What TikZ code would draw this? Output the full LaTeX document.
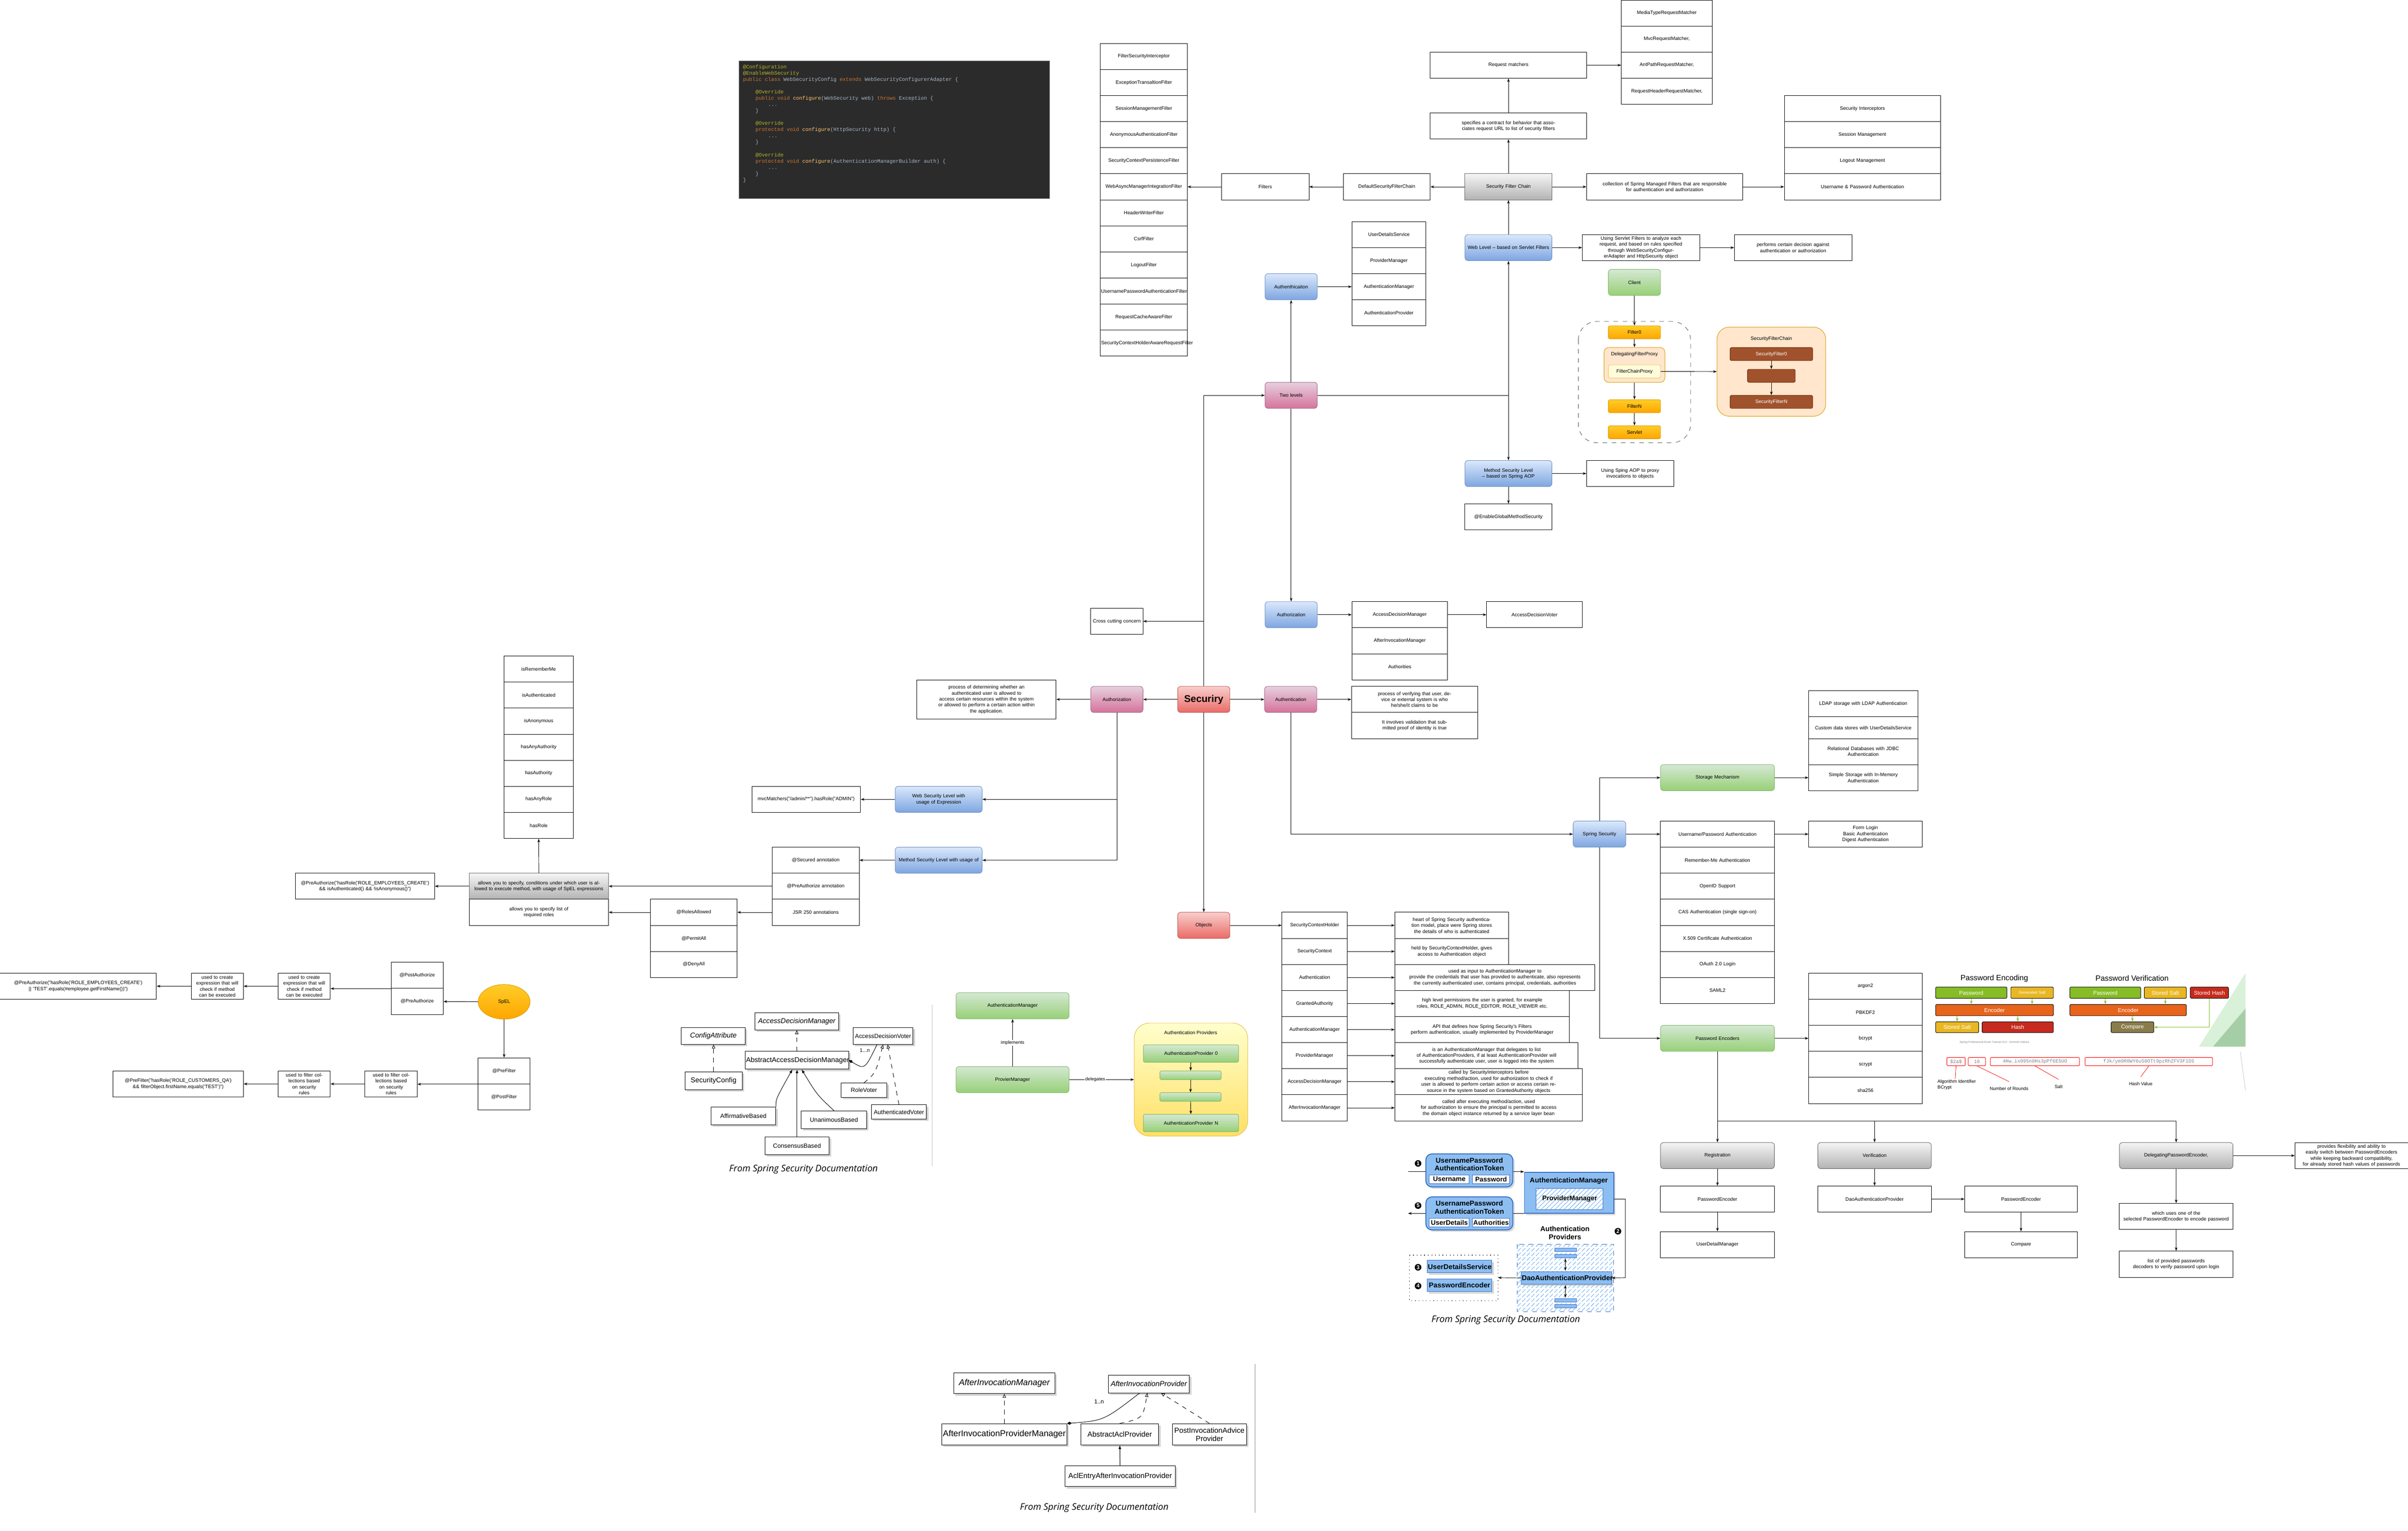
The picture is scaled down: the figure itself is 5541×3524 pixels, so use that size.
\documentclass[tikz,border=0pt]{standalone}
\usepackage{fontspec}
\setmainfont{Liberation Sans}
\newfontfamily\capfont{Open Sans}
\newfontfamily\codefont{Liberation Mono}
\usetikzlibrary{arrows.meta,shapes.geometric,patterns,shadows}
\definecolor{bT}{HTML}{DAE8FC}\definecolor{bB}{HTML}{7EA6E0}\definecolor{bD}{HTML}{6C8EBF}
\definecolor{pT}{HTML}{E6D0DE}\definecolor{pB}{HTML}{D5739D}\definecolor{pD}{HTML}{996185}
\definecolor{rT}{HTML}{F8CECC}\definecolor{rB}{HTML}{EA6B66}\definecolor{rD}{HTML}{B85450}
\definecolor{gT}{HTML}{D5E8D4}\definecolor{gB}{HTML}{97D077}\definecolor{gD}{HTML}{82B366}
\definecolor{yT}{HTML}{F5F5F5}\definecolor{yB}{HTML}{B3B3B3}\definecolor{yD}{HTML}{666666}
\definecolor{oT}{HTML}{FFCD28}\definecolor{oB}{HTML}{FFA500}\definecolor{oD}{HTML}{D79B00}
\definecolor{peach}{HTML}{FFE6CC}\definecolor{brn}{HTML}{A0522D}\definecolor{brnD}{HTML}{6D1F00}
\definecolor{codebg}{HTML}{2B2B2B}\definecolor{cAnn}{HTML}{BBB529}\definecolor{cKw}{HTML}{CC7832}
\definecolor{cTx}{HTML}{A9B7C6}\definecolor{cMe}{HTML}{FFC66D}
\definecolor{tokB}{HTML}{8CBEF2}\definecolor{tokD}{HTML}{3A6FC4}
\definecolor{pwG}{HTML}{86BC25}\definecolor{pwY}{HTML}{E8B723}\definecolor{pwO}{HTML}{E8641B}
\definecolor{pwR}{HTML}{C52B1E}\definecolor{pwC}{HTML}{8A7D4B}
\newcommand\fs{\fontsize{3.2}{3.9}\selectfont}
\newcommand\mybox[7]{%
 \pgfmathsetmacro\mbx{(#2+#4)/2}\pgfmathsetmacro\mby{(#3+#5)/2}%
 \pgfmathsetmacro\mbw{(#4-#2)*0.28453}\pgfmathsetmacro\mbh{(#5-#3)*0.28453}%
 \pgfmathsetmacro\mbt{max((#4-#2)*0.28453-1,1)}%
 \node[#6, minimum width=\mbw pt, minimum height=\mbh pt, text width=\mbt pt, align=center] (#1) at (\mbx,\mby) {#7};}
\newcommand\myrows[6]{\foreach [count=\ri] \rt in {#6} {\mybox{#1\ri}{#2}{(#3+(\ri-1)*#5)}{#4}{(#3+\ri*#5)}{plain}{\rt}}}
\tikzset{
 base/.style={draw, line width=0.3pt, inner sep=0.5pt, font=\fs},
 plain/.style={base, fill=white},
 bluebox/.style={base, rounded corners=2pt, top color=bT, bottom color=bB, draw=bD},
 pinkbox/.style={base, rounded corners=2pt, top color=pT, bottom color=pB, draw=pD},
 redbox/.style={base, rounded corners=2pt, top color=rT, bottom color=rB, draw=rD},
 greenbox/.style={base, rounded corners=2pt, top color=gT, bottom color=gB, draw=gD},
 graybox/.style={base, rounded corners=2pt, top color=yT, bottom color=yB, draw=yD},
 orangebox/.style={base, rounded corners=1pt, top color=oT, bottom color=oB, draw=oD},
 peachbox/.style={base, rounded corners=3pt, fill=peach, draw=oD},
 brownbox/.style={base, rounded corners=1pt, fill=brn, draw=brnD, text=white},
 umlbox/.style={base, fill=white, font=\fontsize{4.6}{5.2}\selectfont, drop shadow={shadow xshift=1.2pt, shadow yshift=-1.2pt, fill=gray!70}},
 tok/.style={base, rounded corners=4pt, fill=tokB, draw=tokD, line width=0.6pt, font=\fontsize{4.6}{5.2}\selectfont\bfseries, drop shadow={shadow xshift=1.2pt, shadow yshift=-1.2pt, fill=gray!60}},
 tokin/.style={base, fill=white, draw=tokD, font=\fontsize{4.4}{5}\selectfont\bfseries},
 pw/.style={base, rounded corners=0.6pt, text=white, font=\fontsize{3.6}{4}\selectfont},
 redr/.style={base, draw=red, rounded corners=0.5pt, text=gray, font=\codefont\fontsize{3.2}{3.6}\selectfont},
 num/.style={circle, fill=black, text=white, inner sep=0.4pt, font=\fontsize{3.6}{4}\selectfont\bfseries},
 capt/.style={font=\capfont\itshape\fontsize{6}{7}\selectfont},
 arr/.style={->, line width=0.3pt},
 >={Stealth[length=2.4pt,width=1.7pt]},
}
\begin{document}
\begin{tikzpicture}[x=0.01cm,y=-0.01cm]
\useasboundingbox (0,0) rectangle (5541,3524);
% ---------- code block
\fill[codebg] (1701,140) rectangle (2415,457);
\draw[gray, line width=0.3pt] (1701,140) rectangle (2415,457);
\node[anchor=north west, inner sep=0pt, align=left, text=cTx, font=\codefont\fontsize{3.4}{4.12}\selectfont] (code) at (1709,148) {%
{\color{cAnn}@Configuration}\\
{\color{cAnn}@EnableWebSecurity}\\
{\color{cKw}public class} WebSecurityConfig {\color{cKw}extends} WebSecurityConfigurerAdapter \{\\
~\\
\hspace*{8.2pt}{\color{cAnn}@Override}\\
\hspace*{8.2pt}{\color{cKw}public void} {\color{cMe}configure}(WebSecurity web) {\color{cKw}throws} Exception \{\\
\hspace*{16.4pt}...\\
\hspace*{8.2pt}\}\\
~\\
\hspace*{8.2pt}{\color{cAnn}@Override}\\
\hspace*{8.2pt}{\color{cKw}protected void} {\color{cMe}configure}(HttpSecurity http) \{\\
\hspace*{16.4pt}...\\
\hspace*{8.2pt}\}\\
~\\
\hspace*{8.2pt}{\color{cAnn}@Override}\\
\hspace*{8.2pt}{\color{cKw}protected void} {\color{cMe}configure}(AuthenticationManagerBuilder auth) \{\\
\hspace*{16.4pt}...\\
\hspace*{8.2pt}\}\\
\}};
% ---------- web level
\myrows{f}{2532}{100}{2732}{60}{FilterSecurityInterceptor,ExceptionTransaltionFilter,SessionManagementFilter,AnonymousAuthenticationFilter,SecurityContextPersistenceFilter,WebAsyncManagerIntegrationFilter,HeaderWriterFilter,CsrfFilter,LogoutFilter,UsernamePasswordAuthenticationFilter,RequestCacheAwareFilter,SecurityContextHolderAwareRequestFilter}
\mybox{filters}{2811}{400}{3012}{460}{plain}{Filters}
\mybox{dsfc}{3091}{400}{3291}{460}{plain}{DefaultSecurityFilterChain}
\mybox{sfc}{3371}{400}{3571}{460}{graybox,rounded corners=0pt}{Security Filter Chain}
\mybox{spec}{3291}{260}{3651}{320}{plain}{specifies a contract for behavior that associates request URL to list of security filters}
\mybox{rm}{3291}{120}{3651}{180}{plain}{Request matchers}
\myrows{m}{3731}{0}{3940}{60}{MediaTypeRequestMatcher,{MvcRequestMatcher,},{AntPathRequestMatcher,},{RequestHeaderRequestMatcher,}}
\mybox{coll}{3651}{400}{4010}{460}{plain}{collection of Spring Managed Filters that are responsible\\ for authentication and authorization}
\myrows{s}{4106}{220}{4465}{60}{Security Interceptors,Session Management,Logout Management,Username \& Password Authentication}
\mybox{web}{3371}{540}{3571}{600}{bluebox}{Web Level -- based on Servlet Filters}
\mybox{using}{3641}{540}{3911}{600}{plain}{Using Servlet Filters to analyze each request, and based on rules specified\\ through WebSecurityConfigurerAdapter and HttpSecurity object}
\mybox{perf}{3991}{540}{4261}{600}{plain}{performs certain decision against authentication or authorization}
\draw[arr] (filters) -- (f6);
\draw[arr] (dsfc) -- (filters);
\draw[arr] (sfc) -- (dsfc);
\draw[arr] (sfc) -- (spec);
\draw[arr] (spec) -- (rm);
\draw[arr] (rm) -- (m3);
\draw[arr] (sfc) -- (coll);
\draw[arr] (coll) -- (s4);
\draw[arr] (web) -- (sfc);
\draw[arr] (web) -- (using);
\draw[arr] (using) -- (perf);
% client flow
\draw[dashed, gray!70!black, line width=0.3pt, rounded corners=12pt] (3632,740) rectangle (3890,1019);
\mybox{client}{3701}{620}{3821}{680}{greenbox}{Client}
\mybox{f0}{3701}{750}{3821}{780}{orangebox}{Filter0}
\mybox{dfp}{3691}{800}{3831}{880}{peachbox}{}
\node[font=\fs] (dfpt) at (3761,815) {DelegatingFilterProxy};
\mybox{fcp}{3701}{840}{3821}{870}{base, fill=yellow!15, draw=oD!60, rounded corners=1pt}{FilterChainProxy}
\mybox{fn}{3701}{920}{3821}{950}{orangebox}{FilterN}
\mybox{serv}{3701}{980}{3821}{1010}{orangebox}{Servlet}
\mybox{sfcC}{3951}{753}{4201}{958}{peachbox, rounded corners=8pt}{}
\node[font=\fs] (sfcT) at (4076,780) {SecurityFilterChain};
\mybox{sf0}{3981}{800}{4171}{830}{brownbox}{SecurityFilter0}
\mybox{sfm}{4021}{850}{4131}{880}{brownbox}{}
\mybox{sfn}{3981}{910}{4171}{940}{brownbox}{SecurityFilterN}
\draw[arr] (client) -- (f0);
\draw[arr] (f0) -- (dfp);
\draw[arr] (dfp) -- (fn);
\draw[arr] (fn) -- (serv);
\draw[arr] (fcp) -- (sfcC);
\draw[arr] (sf0) -- (sfm);
\draw[arr] (sfm) -- (sfn);
% two levels
\mybox{two}{2911}{880}{3031}{940}{pinkbox}{Two levels}
\mybox{auth}{2911}{630}{3031}{690}{bluebox}{Authenthicaiton}
\myrows{u}{3111}{510}{3281}{60}{UserDetailsService,ProviderManager,AuthenticationManager,AuthenticationProvider}
\mybox{meth}{3371}{1060}{3571}{1120}{bluebox}{Method Security Level -- based on Spring AOP}
\mybox{aop}{3651}{1060}{3851}{1120}{plain}{Using Sping AOP to proxy invocations to objects}
\mybox{egms}{3371}{1160}{3571}{1220}{plain}{@EnableGlobalMethodSecurity}
\mybox{authz2}{2911}{1385}{3031}{1445}{bluebox}{Authorization}
\myrows{a}{3111}{1385}{3331}{60}{AccessDecisionManager,AfterInvocationManager,Authorities}
\mybox{adv}{3421}{1385}{3641}{1445}{plain}{AccessDecisionVoter}
\mybox{cross}{2510}{1400}{2630}{1460}{plain}{Cross cutting concern}
\mybox{sec}{2710}{1580}{2830}{1640}{redbox, font=\fontsize{6.4}{7}\selectfont\bfseries}{Securiry}
\mybox{authz}{2510}{1580}{2630}{1640}{pinkbox}{Authorization}
\mybox{authn}{2910}{1580}{3030}{1640}{pinkbox}{Authentication}
\mybox{pdet}{2110}{1565}{2430}{1655}{plain}{process of determining whether an authenticated user is allowed to\\ access certain resources within the system or allowed to perform a certain action within\\ the application.}
\mybox{pver1}{3110}{1580}{3400}{1640}{plain}{process of verifying that user, device or external system is who\\ he/she/it claims to be}
\mybox{pver2}{3110}{1640}{3400}{1700}{plain}{It involves validation that submitted proof of identity is true}
\draw[arr] (two) -- (auth);
\draw[arr] (auth) -- (u3);
\draw[arr] (two.east) -| (web.south);
\draw[arr] (two.east) -| (meth.north);
\draw[arr] (two) -- (authz2);
\draw[arr] (sec.north) |- (two.west);
\draw[arr] (sec.north) |- (cross.east);
\draw[arr] (meth) -- (aop);
\draw[arr] (meth) -- (egms);
\draw[arr] (authz2) -- (a1);
\draw[arr] (a1) -- (adv);
\draw[arr] (sec) -- (authn);
\draw[arr] (sec) -- (authz);
\draw[arr] (authz) -- (pdet);
\draw[arr] (authn) -- (pver1);
% authorization branch
\mybox{wse}{2060}{1810}{2260}{1870}{bluebox}{Web Security Level with usage of Expression}
\mybox{mse}{2060}{1950}{2260}{2010}{bluebox}{Method Security Level with usage of}
\mybox{mvc}{1730}{1810}{1980}{1870}{plain}{mvcMatchers("/admin/**").hasRole("ADMIN")}
\myrows{sa}{1777}{1950}{1977}{60}{@Secured annotation,@PreAuthorize annotation,JSR 250 annotations}
\myrows{ir}{1160}{1510}{1319}{60}{isRememberMe,isAuthenticated,isAnonymous,hasAnyAuthority,hasAuthority,hasAnyRole,hasRole}
\mybox{allows1}{1080}{2010}{1400}{2070}{graybox, rounded corners=0pt}{allows you to specify, conditions under which user is allowed to execute method, with usage of SpEL expressions}
\mybox{allows2}{1080}{2070}{1400}{2130}{plain}{allows you to specify list of\\ required roles}
\mybox{prel}{680}{2010}{1000}{2070}{plain}{@PreAuthorize("hasRole('ROLE\_EMPLOYEES\_CREATE') \&\& isAuthenticated() \&\& !isAnonymous()")}
\myrows{ra}{1497}{2070}{1696}{60}{@RolesAllowed,@PermitAll,@DenyAll}
\draw[arr] (authz.south) |- (wse.east);
\draw[arr] (authz.south) |- (mse.east);
\draw[arr] (wse) -- (mvc);
\draw[arr] (mse) -- (sa1);
\draw[arr] (sa2) -- (allows1);
\draw[arr] (allows1) -- (ir7);
\draw[arr] (allows1) -- (prel);
\draw[arr] (sa3) -- (ra1);
\draw[arr] (ra1) -- (allows2);
% SpEL
\node[ellipse, base, top color=oT, bottom color=oB, draw=oD, minimum width=34pt, minimum height=22.7pt] (spel) at (1160,2306) {SpEL};
\mybox{pa1}{900}{2215}{1020}{2275}{plain}{@PostAuthorize}
\mybox{pa2}{900}{2275}{1020}{2335}{plain}{@PreAuthorize}
\mybox{utc2}{640}{2240}{760}{2300}{plain}{used to create expression that will check if method can be executed}
\mybox{utc1}{440}{2240}{560}{2300}{plain}{used to create expression that will check if method can be executed}
\mybox{pal}{0}{2240}{360}{2300}{plain}{@PreAuthorize("hasRole('ROLE\_EMPLOYEES\_CREATE') || 'TEST'.equals(\#employee.getFirstName())")}
\mybox{pf1}{1100}{2435}{1220}{2495}{plain}{@PreFilter}
\mybox{pf2}{1100}{2495}{1220}{2555}{plain}{@PostFilter}
\mybox{utf2}{840}{2465}{960}{2525}{plain}{used to filter collections based on security\\ rules}
\mybox{utf1}{640}{2465}{760}{2525}{plain}{used to filter collections based on security\\ rules}
\mybox{pfl}{260}{2465}{560}{2525}{plain}{@PreFilter("hasRole('ROLE\_CUSTOMERS\_QA') \&\& filterObject.firstName.equals('TEST')")}
\draw[arr] (spel) -- (pa2);
\draw[arr] (pa1.south west) -- (utc2.east |- pa1.south west);
\draw[arr] (utc2) -- (utc1);
\draw[arr] (utc1) -- (pal);
\draw[arr] (spel) -- (pf1);
\draw[arr] (pf1.south west) -- (utf2.east |- pf1.south west);
\draw[arr] (utf2) -- (utf1);
\draw[arr] (utf1) -- (pfl);
% ---------- objects
\mybox{obj}{2710}{2100}{2830}{2160}{redbox}{Objects}
\myrows{o}{2950}{2100}{3100}{60}{SecurityContextHolder,SecurityContext,Authentication,GrantedAuthority,AuthenticationManager,ProviderManager,AccessDecisionManager,AfterInvocationManager}
\mybox{d1}{3210}{2100}{3471}{2160}{plain}{heart of Spring Security authentication model, place were Spring stores the details of who is authenticated}
\mybox{d2}{3210}{2160}{3471}{2220}{plain}{held by SecurityContextHolder, gives access to Authentication object}
\mybox{d3}{3210}{2220}{3670}{2280}{plain}{used as input to AuthenticationManager to\\ provide the credentials that user has provided to authenticate, also represents the currently authenticated user, contains principal, credentials, authorities}
\mybox{d4}{3210}{2280}{3611}{2340}{plain}{high level permissions the user is granted, for example\\ roles, ROLE\_ADMIN, ROLE\_EDITOR, ROLE\_VIEWER etc.}
\mybox{d5}{3210}{2340}{3611}{2400}{plain}{API that defines how Spring Security's Filters\\ perform authentication, usually implemented by ProviderManager}
\mybox{d6}{3210}{2400}{3631}{2460}{plain}{is an AuthenticationManager that delegates to list\\ of AuthenticationProviders, if at least AuthenticationProvider will successfully authenticate user, user is logged into the system}
\mybox{d7}{3210}{2460}{3641}{2520}{plain}{called by SecurityInterceptors before\\ executing method/action, used for authorization to check if user is allowed to perform certain action or access certain resource in the system based on GrantedAuthority objects}
\mybox{d8}{3210}{2520}{3641}{2580}{plain}{called after executing method/action, used\\ for authorization to ensure the principal is permitted to access the domain object instance returned by a service layer bean}
\draw[arr] (sec) -- (obj);
\draw[arr] (obj) -- (o1);
\foreach \i in {1,...,8} {\draw[arr] (o\i.east) -- (o\i.east -| d\i.west);}
% ---------- spring security
\mybox{ss}{3620}{1890}{3741}{1950}{bluebox}{Spring Security}
\myrows{up}{3821}{1890}{4083}{60}{Username/Password Authentication,Remember-Me Authentication,OpenID Support,CAS Authentication (single sign-on),X.509 Certificate Authentication,OAuth 2.0 Login,SAML2}
\mybox{form}{4162}{1890}{4423}{1950}{plain}{Form Login\\ Basic Authentication\\ Digest Authentication}
\mybox{stor}{3821}{1760}{4083}{1820}{greenbox}{Storage Mechanism}
\mybox{st1}{4162}{1590}{4413}{1650}{plain}{LDAP storage with LDAP Authentication}
\mybox{st2}{4162}{1650}{4413}{1700}{plain}{Custom data stores with UserDetailsService}
\mybox{st3}{4162}{1700}{4413}{1760}{plain}{Relational Databases with JDBC\\ Authentication}
\mybox{st4}{4162}{1760}{4413}{1820}{plain}{Simple Storage with In-Memory\\ Authentication}
\mybox{pe}{3821}{2360}{4083}{2420}{greenbox}{Password Encoders}
\myrows{ar}{4162}{2240}{4423}{60}{argon2,PBKDF2,bcrypt,scrypt,sha256}
\draw[arr] (authn.south) |- (ss.west);
\draw[arr] (ss) -- (up1);
\draw[arr] (up1) -- (form);
\draw[arr] (ss.north) |- (stor.west);
\draw[arr] (stor) -- (st4);
\draw[arr] (ss.south) |- (pe.west);
\draw[arr] (pe) -- (ar3);
\mybox{reg}{3821}{2630}{4083}{2690}{graybox}{Registration}
\mybox{ver}{4183}{2630}{4444}{2690}{graybox}{Verification}
\mybox{dpe}{4877}{2630}{5138}{2690}{graybox}{DelegatingPasswordEncoder,}
\mybox{prov}{5281}{2630}{5541}{2690}{plain}{provides flexibility and ability to\\ easily switch between PasswordEncoders while keeping backward compatibility,\\ for already stored hash values of passwords}
\mybox{pe2}{3821}{2730}{4083}{2790}{plain}{PasswordEncoder}
\mybox{udm}{3821}{2835}{4083}{2895}{plain}{UserDetailManager}
\mybox{dao}{4183}{2730}{4444}{2790}{plain}{DaoAuthenticationProvider}
\mybox{pe3}{4521}{2730}{4780}{2790}{plain}{PasswordEncoder}
\mybox{cmp}{4521}{2835}{4780}{2895}{plain}{Compare}
\mybox{wu}{4877}{2770}{5138}{2830}{plain}{which uses one of the\\ selected PasswordEncoder to encode password}
\mybox{lp}{4877}{2880}{5138}{2940}{plain}{list of provided passwords\\ decoders to verify password upon login}
\coordinate (br) at (3952,2580);
\draw[line width=0.3pt] (pe.south) -- (br);
\draw[arr] (br) -| (dpe.north);
\draw[arr] (br) -- (reg.north);
\draw[arr] (ver.north |- br) -- (ver.north);
\draw[arr] (reg) -- (pe2);
\draw[arr] (pe2) -- (udm);
\draw[arr] (ver) -- (dao);
\draw[arr] (dao) -- (pe3);
\draw[arr] (pe3) -- (cmp);
\draw[arr] (dpe) -- (prov);
\draw[arr] (dpe) -- (wu);
\draw[arr] (wu) -- (lp);
% password image
\fill[green!45!black!35] (5092,2409) -- (5167,2321) -- (5167,2409) -- cycle;
\fill[green!60!black!15] (5060,2409) -- (5167,2240) -- (5167,2321) -- (5092,2409) -- cycle;
\node[font=\fontsize{5}{6}\selectfont] (pet) at (4589,2252) {Password Encoding};
\node[font=\fontsize{5}{6}\selectfont] (pvt) at (4906,2252) {Password Verification};
\mybox{pw1}{4454}{2272}{4618}{2298}{pw, fill=pwG}{Password}
\mybox{pw2}{4627}{2272}{4725}{2298}{pw, fill=pwY, font=\fontsize{2.6}{3}\selectfont}{Generated Salt}
\mybox{pw3}{4454}{2312}{4725}{2338}{pw, fill=pwO}{Encoder}
\mybox{pw4}{4454}{2352}{4553}{2377}{pw, fill=pwY}{Stored Salt}
\mybox{pw5}{4561}{2352}{4725}{2377}{pw, fill=pwR}{Hash}
\mybox{pv1}{4763}{2272}{4926}{2298}{pw, fill=pwG}{Password}
\mybox{pv2}{4934}{2272}{5031}{2298}{pw, fill=pwY}{Stored Salt}
\mybox{pv3}{5040}{2272}{5128}{2298}{pw, fill=pwR}{Stored Hash}
\mybox{pv4}{4763}{2312}{5031}{2338}{pw, fill=pwO}{Encoder}
\mybox{pv5}{4858}{2352}{4956}{2377}{pw, fill=pwC}{Compare}
\draw[pwG, line width=0.3pt, ->] (pw1.south) -- (pw1.south |- pw3.north);
\draw[pwG, line width=0.3pt, ->] (pw2.south) -- (pw2.south |- pw3.north);
\draw[pwG, line width=0.3pt, ->] (pw4.north |- pw3.south) -- (pw4.north);
\draw[pwG, line width=0.3pt, ->] (pw5.north |- pw3.south) -- (pw5.north);
\draw[pwG, line width=0.3pt, ->] (pv1.south) -- (pv1.south |- pv4.north);
\draw[pwG, line width=0.3pt, ->] (pv2.south) -- (pv2.south |- pv4.north);
\draw[pwG, line width=0.3pt, ->] (pv4.south -| pv5.north) -- (pv5.north);
\draw[pwG, line width=0.3pt, ->] (pv3.south) |- (pv5.east);
\node[text=gray, font=\fontsize{1.8}{2}\selectfont] (pwc) at (4589,2399) {Spring Professional Exam Tutorial v5.0 - Dominik Cebula};
\mybox{bc1}{4480}{2434}{4522}{2453}{redr}{\$2a\$}
\mybox{bc2}{4529}{2434}{4569}{2453}{redr}{10}
\mybox{bc3}{4580}{2434}{4785}{2453}{redr}{4Hw.ix095n8Hs3pPf6E5UO}
\mybox{bc4}{4798}{2434}{5091}{2453}{redr}{fJk/ym9R0WY6u58OTt9pzRhZFV3F1DS}
\node[align=left, font=\fontsize{3}{3.6}\selectfont, anchor=west] (bl1) at (4446,2497) {Algorithm Identifier\\ BCrypt};
\node[font=\fontsize{3}{3.6}\selectfont] (bl2) at (4623,2506) {Number of Rounds};
\node[font=\fontsize{3}{3.6}\selectfont] (bl3) at (4737,2501) {Salt};
\node[font=\fontsize{3}{3.6}\selectfont] (bl4) at (4926,2495) {Hash Value};
\draw[red, line width=0.25pt] (bc1.south) -- (4499,2484);
\draw[red, line width=0.25pt] (bc2.south) -- (bl2.north);
\draw[red, line width=0.25pt] (bc3.south) -- (bl3.north);
\draw[red, line width=0.25pt] (bc4.south) -- (bl4.north);
\draw[gray!40, line width=0.3pt] (5155,2420) -- (5167,2510);
% ---------- authentication manager / providers (middle)
\mybox{am2}{2200}{2285}{2460}{2345}{greenbox}{AuthenticationManager}
\mybox{pm}{2200}{2455}{2460}{2515}{greenbox}{ProvierManager}
\mybox{apc}{2610}{2355}{2871}{2615}{base, rounded corners=10pt, top color=yellow!20, bottom color=yellow!60!orange!60, draw=oD!70}{}
\node[font=\fs] (apct) at (2740,2377) {Authentication Providers};
\mybox{ap0}{2631}{2405}{2850}{2445}{greenbox, rounded corners=1pt}{AuthenticationProvider 0}
\mybox{ag1}{2669}{2465}{2810}{2485}{greenbox, rounded corners=1pt}{}
\mybox{ag2}{2669}{2515}{2810}{2535}{greenbox, rounded corners=1pt}{}
\mybox{apn}{2631}{2565}{2850}{2605}{greenbox, rounded corners=1pt}{AuthenticationProvider N}
\draw[arr] (pm) -- node[fill=white, inner sep=0.5pt, font=\fontsize{3}{3.5}\selectfont] {implements} (am2);
\draw[arr] (pm) -- node[fill=white, inner sep=0.5pt, pos=0.4, font=\fontsize{3}{3.5}\selectfont] {delegates} (pm -| apc.west);
\draw[arr] (ap0) -- (ag1);
\draw[arr] (ag1) -- (ag2);
\draw[arr] (ag2) -- (apn);
\draw[gray!50, line width=0.4pt] (2145,2313) -- (2145,2684);
\draw[gray!50, line width=0.4pt] (2888,3140) -- (2888,3482);
% ---------- UML access decision
\mybox{cattr}{1568}{2365}{1715}{2404}{umlbox, font=\fontsize{4.6}{5.2}\selectfont\itshape}{ConfigAttribute}
\mybox{adm}{1737}{2331}{1930}{2371}{umlbox, font=\fontsize{4.6}{5.2}\selectfont\itshape}{AccessDecisionManager}
\mybox{aadm}{1715}{2420}{1953}{2461}{umlbox}{AbstractAccessDecisionManager}
\mybox{scfg}{1576}{2467}{1708}{2508}{umlbox}{SecurityConfig}
\mybox{advo}{1963}{2365}{2101}{2404}{umlbox, font=\fontsize{3.9}{4.5}\selectfont}{AccessDecisionVoter}
\mybox{rv}{1935}{2493}{2041}{2526}{umlbox, font=\fontsize{3.9}{4.5}\selectfont}{RoleVoter}
\mybox{av}{2005}{2543}{2132}{2576}{umlbox, font=\fontsize{3.9}{4.5}\selectfont}{AuthenticatedVoter}
\mybox{affb}{1636}{2548}{1785}{2589}{umlbox, font=\fontsize{4}{4.6}\selectfont}{AffirmativeBased}
\mybox{unb}{1844}{2557}{1994}{2598}{umlbox, font=\fontsize{4}{4.6}\selectfont}{UnanimousBased}
\mybox{conb}{1760}{2617}{1908}{2658}{umlbox, font=\fontsize{4}{4.6}\selectfont}{ConsensusBased}
\draw[dashed, line width=0.3pt, -{Triangle[open,length=2.5pt,width=2.2pt]}] (scfg) -- (scfg |- cattr.south);
\draw[dashed, line width=0.3pt, -{Triangle[open,length=2.5pt,width=2.2pt]}] (aadm.north -| adm.south) -- (adm.south);
\draw[line width=0.3pt, {Diamond[length=3pt,width=2pt]}-] (aadm.east) .. controls (1990,2462) .. ([xshift=-4pt]advo.south);
\node[font=\fontsize{3.4}{4}\selectfont] (one1) at (1990,2418) {1...n};
\draw[dashed, line width=0.3pt, -{Triangle[open,length=2.5pt,width=2.2pt]}] (rv.north) .. controls (2015,2470) .. ([xshift=0pt]advo.south);
\draw[dashed, line width=0.3pt, -{Triangle[open,length=2.5pt,width=2.2pt]}] (av.north) -- ([xshift=3pt]advo.south);
\draw[line width=0.3pt, -{Latex[length=2.5pt]}] (affb.north east) .. controls (1785,2530) .. ([xshift=-3pt]aadm.south);
\draw[line width=0.3pt, -{Latex[length=2.5pt]}] (conb.north) -- (conb.north |- aadm.south);
\draw[line width=0.3pt, -{Latex[length=2.5pt]}] (unb.north) .. controls (1880,2520) .. ([xshift=3pt]aadm.south);
\node[capt] (cap1) at (1849,2692) {From Spring Security Documentation};
% ---------- UML after invocation
\mybox{aim}{2195}{3160}{2427}{3208}{umlbox, font=\fontsize{5.6}{6.2}\selectfont\itshape}{AfterInvocationManager}
\mybox{aip}{2550}{3165}{2737}{3206}{umlbox, font=\fontsize{4.8}{5.4}\selectfont\itshape}{AfterInvocationProvider}
\mybox{aipm}{2167}{3277}{2455}{3326}{umlbox, font=\fontsize{5.6}{6.2}\selectfont}{AfterInvocationProviderManager}
\mybox{aacl}{2487}{3277}{2666}{3326}{umlbox, font=\fontsize{4.8}{5.4}\selectfont}{AbstractAclProvider}
\mybox{piap}{2698}{3277}{2868}{3326}{umlbox, font=\fontsize{4.8}{5.4}\selectfont}{PostInvocationAdvice\\ Provider}
\mybox{acle}{2451}{3374}{2704}{3422}{umlbox, font=\fontsize{4.8}{5.4}\selectfont}{AclEntryAfterInvocationProvider}
\draw[dashed, line width=0.3pt, -{Triangle[open,length=2.5pt,width=2.2pt]}] (aipm.north -| aim.south) -- (aim.south);
\draw[line width=0.3pt, {Diamond[length=3pt,width=2pt]}-] (aipm.north east) .. controls (2540,3270) .. ([xshift=-6pt]aip.south);
\node[font=\fontsize{3.8}{4.4}\selectfont] (one2) at (2529,3226) {1..n};
\draw[dashed, line width=0.3pt, -{Triangle[open,length=2.5pt,width=2.2pt]}] (aacl.north) .. controls (2630,3265) .. ([xshift=-1pt]aip.south);
\draw[dashed, line width=0.3pt, -{Triangle[open,length=2.5pt,width=2.2pt]}] (piap.north) -- ([xshift=8pt]aip.south);
\draw[line width=0.3pt, -{Latex[length=2.5pt]}] (acle) -- (aacl);
\node[capt] (cap2) at (2518,3471) {From Spring Security Documentation};
% ---------- token diagram
\mybox{tok1}{3281}{2656}{3481}{2732}{tok}{}
\node[font=\fontsize{4.6}{5.2}\selectfont\bfseries, align=center] (tok1t) at (3381,2680) {UsernamePassword\\ AuthenticationToken};
\mybox{tk1a}{3289}{2704}{3381}{2724}{tokin}{Username}
\mybox{tk1b}{3388}{2704}{3474}{2724}{tokin}{Password}
\mybox{tok5}{3281}{2755}{3481}{2831}{tok}{}
\node[font=\fontsize{4.6}{5.2}\selectfont\bfseries, align=center] (tok5t) at (3381,2779) {UsernamePassword\\ AuthenticationToken};
\mybox{tk5a}{3289}{2804}{3381}{2824}{tokin}{UserDetails}
\mybox{tk5b}{3388}{2804}{3474}{2824}{tokin}{Authorities}
\mybox{amg}{3508}{2698}{3713}{2793}{tok, rounded corners=0pt}{}
\node[font=\fontsize{4.6}{5.2}\selectfont\bfseries] (amgt) at (3610,2718) {AuthenticationManager};
\mybox{pmg}{3535}{2735}{3689}{2784}{tokin, pattern=north east lines, pattern color=tokB, preaction={fill=white}}{ProviderManager}
\node[font=\fontsize{4.6}{5.2}\selectfont\bfseries, align=center] (aplab) at (3601,2838) {Authentication\\ Providers};
\draw[tokD, dashed, line width=0.3pt, pattern=north east lines, pattern color=tokB] (3491,2864) rectangle (3713,3019);
\mybox{daop}{3500}{2927}{3708}{2956}{tokin, fill=tokB, font=\fontsize{4.6}{5.2}\selectfont\bfseries, drop shadow={shadow xshift=1.2pt, shadow yshift=-1.2pt, fill=gray!60}}{DaoAuthenticationProvider}
\foreach \yy in {2873,2887,2989,3002} {\fill[tokB, draw=tokD, line width=0.2pt] (3578,\yy) rectangle (3627,\yy+8);}
\draw[<->, line width=0.4pt] (3602,2897) -- (3602,2925);
\draw[<->, line width=0.4pt] (3602,2958) -- (3602,2987);
\draw[dotted, line width=0.4pt] (3243,2889) rectangle (3447,2994);
\mybox{udsv}{3284}{2901}{3433}{2930}{tokin, fill=tokB, font=\fontsize{4.6}{5.2}\selectfont\bfseries, drop shadow={shadow xshift=1.2pt, shadow yshift=-1.2pt, fill=gray!60}}{UserDetailsService}
\mybox{penc}{3284}{2944}{3433}{2973}{tokin, fill=tokB, font=\fontsize{4.6}{5.2}\selectfont\bfseries, drop shadow={shadow xshift=1.2pt, shadow yshift=-1.2pt, fill=gray!60}}{PasswordEncoder}
\node[num] (n1) at (3263,2678) {1};
\node[num] (n5) at (3263,2775) {5};
\node[num] (n2) at (3723,2834) {2};
\node[num] (n3) at (3263,2917) {3};
\node[num] (n4) at (3263,2960) {4};
\coordinate (tin) at (3240,2697);
\coordinate (tout) at (3240,2793);
\draw[line width=0.3pt] (tin) -- (tok1.west |- tin);
\draw[arr] (tok1.east |- tin) -- (amg.west |- tin);
\draw[line width=0.3pt] (amg.west |- tout) -- (tok5.east |- tout);
\draw[arr] (tok5.west |- tout) -- (tout);
\draw[arr] (amg.east |- 0,2760) -| (3740,2941) -- (daop.east);
\draw[arr] (daop.west) -- (3447,2941);
\node[capt] (cap3) at (3465,3038) {From Spring Security Documentation};
\end{tikzpicture}
\end{document}
